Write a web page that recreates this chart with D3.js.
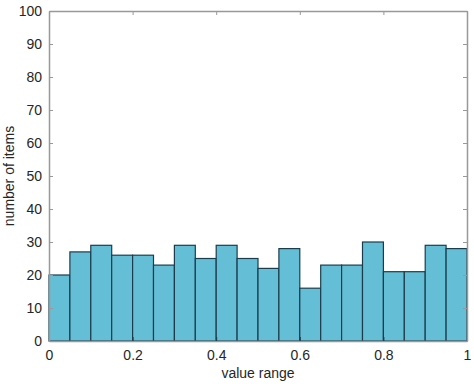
<!DOCTYPE html>
<html><head><meta charset="utf-8">
<script src="https://cdn.jsdelivr.net/npm/d3@7"></script>
<style>body{margin:0;background:#fff}svg{display:block}text{font-family:"Liberation Sans",Arial,sans-serif}</style>
</head><body>
<script>
const binEdges = [0,0.05,0.1,0.15,0.2,0.25,0.3,0.35,0.4,0.45,0.5,0.55,0.6,0.65,0.7,0.75,0.8,0.85,0.9,0.95,1];
const counts = [20,27,29,26,26,23,29,25,29,25,22,28,16,23,23,30,21,21,29,28];
const xTicks = [0,0.2,0.4,0.6,0.8,1];
const yTicks = [0,10,20,30,40,50,60,70,80,90,100];

const W=474,H=384, L=49,R=467,T=11,B=341;
const svg=d3.select("body").append("svg").attr("width",W).attr("height",H);
const x=d3.scaleLinear().domain([0,1]).range([L,R]);
const y=d3.scaleLinear().domain([0,100]).range([B,T]);

svg.selectAll("rect.bar").data(counts).join("rect").attr("class","bar")
 .attr("x",(d,i)=>x(binEdges[i])).attr("width",(d,i)=>x(binEdges[i+1])-x(binEdges[i]))
 .attr("y",d=>y(d)).attr("height",d=>y(0)-y(d))
 .attr("fill","#64bfd6").attr("stroke","#1c3c4c").attr("stroke-width",1.2);

const ac="#999";
const fmt=d=>d===0||d===1?String(d):d3.format(".1f")(d);
const gx=svg.append("g").attr("transform",`translate(0,${B})`)
 .call(d3.axisBottom(x).tickValues(xTicks).tickFormat(fmt).tickSizeInner(-4).tickSizeOuter(0).tickPadding(9));
const gy=svg.append("g").attr("transform",`translate(${L},0)`)
 .call(d3.axisLeft(y).tickValues(yTicks).tickSizeInner(-4).tickSizeOuter(0).tickPadding(7));
const gt=svg.append("g").attr("transform",`translate(0,${T})`)
 .call(d3.axisTop(x).tickValues(xTicks).tickFormat("").tickSizeInner(-4).tickSizeOuter(0));
const gr=svg.append("g").attr("transform",`translate(${R},0)`)
 .call(d3.axisRight(y).tickValues(yTicks).tickFormat("").tickSizeInner(-4).tickSizeOuter(0));
[gx,gy,gt,gr].forEach(g=>{
 g.selectAll(".domain").attr("stroke",ac).attr("stroke-width",1.5);
 g.selectAll(".tick line").attr("stroke",ac);
 g.selectAll("text").attr("font-size",14).attr("fill","#262626").attr("font-family","Liberation Sans, Arial, sans-serif");
});
gx.selectAll(".tick line").attr("stroke","#1c3c4c");
svg.append("text").attr("x",(L+R)/2).attr("y",378).attr("text-anchor","middle")
 .attr("font-size",14).attr("fill","#262626").text("value range");
svg.append("text").attr("transform",`translate(14,${(T+B)/2}) rotate(-90)`).attr("text-anchor","middle")
 .attr("font-size",14).attr("fill","#262626").text("number of items");
</script>
</body></html>
